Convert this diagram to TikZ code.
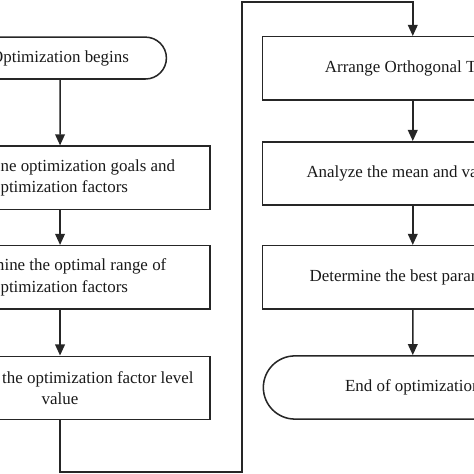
\documentclass[tikz,border=0pt]{standalone}
\usepackage{fontspec}
\setmainfont{Liberation Serif}
\usepackage{tikz}
\usetikzlibrary{arrows.meta,shapes.misc}

\begin{document}
\begin{tikzpicture}[
    font=\fontsize{12.2}{15.5}\selectfont,
    box/.style={draw=black!85, line width=1.1pt, align=center, minimum width=7.6cm, minimum height=1.6cm, text=black!90},
    term/.style={draw=black!85, line width=1.1pt, rounded rectangle, align=center, minimum height=1.6cm, text=black!90},
    arr/.style={-{Triangle[length=8pt,width=7pt]}, line width=1.1pt, draw=black!85}
]
\clip (0,0) rectangle (12,12);
\node[term, minimum width=5.62cm, minimum height=1.06cm] (start) at (1.52,10.53) {Optimization begins};
\node[box] (goals) at (1.52,7.50) {Determine optimization goals and\\optimization factors};
\node[box] (range) at (1.52,4.98) {Determine the optimal range of\\optimization factors};
\node[box] (level) at (1.52,2.18) {Determine the optimization factor level\\value};
\node[box] (ortho) at (10.45,10.27) {Arrange Orthogonal Tests};
\node[box] (anova) at (10.45,7.61) {Analyze the mean and variance};
\node[box] (best) at (10.45,4.98) {Determine the best parameters};
\node[term, minimum width=7.8cm] (finish) at (10.45,2.19) {End of optimization};
\coordinate (loopbot) at (6.13,0.05);
\coordinate (looptop) at (6.13,11.95);
\draw[arr] (start) -- (goals);
\draw[arr] (goals) -- (range);
\draw[arr] (range) -- (level);
\draw[arr] (level.south) |- (loopbot) -- (looptop) -| (ortho.north);
\draw[arr] (ortho) -- (anova);
\draw[arr] (anova) -- (best);
\draw[arr] (best) -- (finish);
\end{tikzpicture}
\end{document}
